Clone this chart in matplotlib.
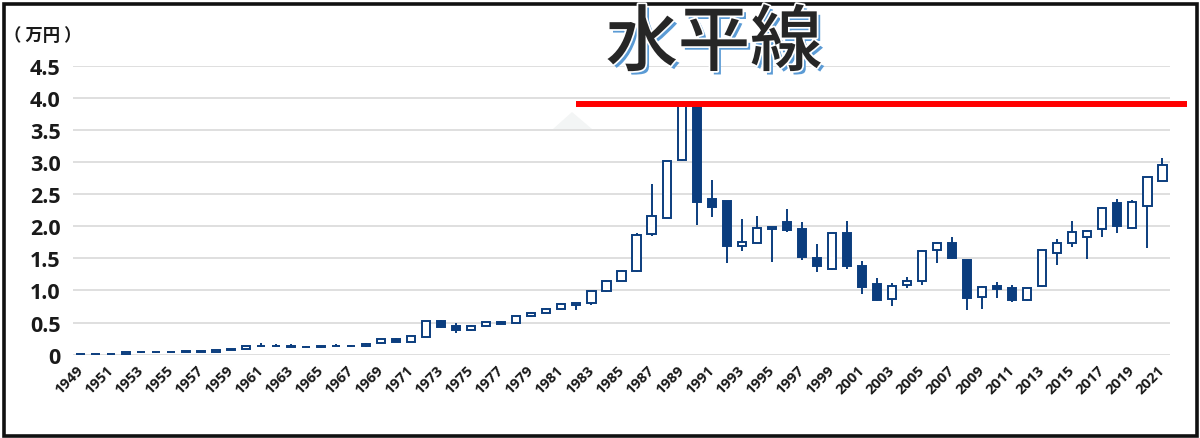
import matplotlib.pyplot as plt
import matplotlib.patheffects as pe
from matplotlib.patches import Polygon, Rectangle
import numpy as np

plt.rcParams['font.family'] = ['Open Sans', 'Noto Sans CJK JP', 'DejaVu Sans']

NAVY = '#0b3d7e'

years = list(range(1949, 2022))
# yearly open / high / low / close, in 万円
opens = [0.0176, 0.0108, 0.0102, 0.0166, 0.036, 0.038, 0.036, 0.043, 0.055, 0.047,
         0.067, 0.087, 0.136, 0.143, 0.142, 0.123, 0.122, 0.142, 0.143, 0.128,
         0.18, 0.245, 0.20, 0.28, 0.525, 0.44, 0.385, 0.445, 0.505, 0.49,
         0.605, 0.655, 0.715, 0.78, 0.81, 0.99, 1.155, 1.311, 1.882, 2.122,
         3.024, 3.871, 2.42, 2.39, 1.70, 1.737, 1.962, 2.07, 1.95, 1.51,
         1.342, 1.90, 1.38, 1.10, 0.871, 1.079, 1.152, 1.636, 1.74, 1.48,
         0.899, 1.075, 1.045, 0.855, 1.063, 1.59, 1.733, 1.84, 1.96, 2.36,
         1.966, 2.32, 2.71]
highs = [0.0176, 0.0115, 0.0166, 0.0363, 0.047, 0.038, 0.043, 0.055, 0.060, 0.067,
         0.087, 0.136, 0.183, 0.159, 0.163, 0.137, 0.142, 0.159, 0.151, 0.185,
         0.25, 0.255, 0.29, 0.53, 0.536, 0.49, 0.456, 0.51, 0.525, 0.61,
         0.66, 0.72, 0.80, 0.80, 0.99, 1.158, 1.313, 1.894, 2.665, 3.016,
         3.896, 3.871, 2.715, 2.39, 2.115, 2.155, 1.99, 2.267, 2.068, 1.726,
         1.90, 2.083, 1.453, 1.20, 1.116, 1.216, 1.634, 1.756, 1.826, 1.48,
         1.064, 1.134, 1.086, 1.045, 1.636, 1.794, 2.087, 1.949, 2.294, 2.427,
         2.407, 2.757, 3.07]
lows = [0.0099, 0.0085, 0.0098, 0.0163, 0.030, 0.032, 0.035, 0.042, 0.047, 0.047,
        0.067, 0.087, 0.126, 0.122, 0.120, 0.120, 0.102, 0.140, 0.125, 0.127,
        0.17, 0.195, 0.198, 0.278, 0.415, 0.336, 0.375, 0.44, 0.475, 0.487,
        0.59, 0.645, 0.70, 0.69, 0.78, 0.97, 1.155, 1.288, 1.854, 2.122,
        3.018, 2.022, 2.146, 1.431, 1.608, 1.737, 1.449, 1.916, 1.478, 1.288,
        1.323, 1.342, 0.950, 0.830, 0.761, 1.037, 1.083, 1.422, 1.484, 0.70,
        0.705, 0.880, 0.816, 0.83, 1.049, 1.391, 1.680, 1.495, 1.834, 1.895,
        1.956, 1.655, 2.70]
closes = [0.0110, 0.0102, 0.0166, 0.0363, 0.038, 0.036, 0.043, 0.055, 0.047, 0.067,
          0.087, 0.136, 0.143, 0.142, 0.123, 0.122, 0.142, 0.143, 0.128, 0.171,
          0.25, 0.205, 0.285, 0.525, 0.43, 0.385, 0.445, 0.51, 0.485, 0.605,
          0.657, 0.715, 0.785, 0.80, 0.99, 1.155, 1.311, 1.87, 2.156, 3.016,
          3.892, 2.385, 2.298, 1.692, 1.755, 1.98, 1.987, 1.936, 1.526, 1.384,
          1.90, 1.379, 1.054, 0.858, 1.068, 1.149, 1.611, 1.735, 1.51, 0.886,
          1.055, 1.023, 0.846, 1.045, 1.629, 1.745, 1.91, 1.92, 2.29, 2.001,
          2.38, 2.76, 2.95]

line_level = 3.905      # 水平線 (1989 high)
line_from = 1982
line_to = 2022.6

yticks = [0, 0.5, 1.0, 1.5, 2.0, 2.5, 3.0, 3.5, 4.0, 4.5]
ytick_labels = ['0', '0.5', '1.0', '1.5', '2.0', '2.5', '3.0', '3.5', '4.0', '4.5']

fig = plt.figure(figsize=(12, 4.39), dpi=100)
ax = fig.add_axes([73 / 1200, 1 - 355.7 / 439, 1097 / 1200, 289 / 439])

x = np.arange(len(years))
o = np.array(opens)
c = np.array(closes)
up = c >= o
bottoms = np.minimum(o, c)
heights = np.abs(c - o)
faces = ['white' if u else NAVY for u in up]

ax.vlines(x, lows, highs, color=NAVY, lw=1.4, zorder=2)
ax.bar(x, heights, bottom=bottoms, width=0.54, color=faces, edgecolor=NAVY,
       linewidth=1.4, zorder=3)

x0 = years.index(line_from)
x1 = line_to - years[0]
ax.plot([x0, x1], [line_level, line_level], color='#ff0000', lw=4.3,
        solid_capstyle='butt', clip_on=False, zorder=5)

ax.set_xlim(-0.5, len(years) - 0.5)
ax.set_ylim(0, 4.5)
ax.set_yticks(yticks)
ax.set_yticklabels(ytick_labels, fontsize=15.5, fontweight='bold', color='#1a1a1a')
ax.set_xticks(x[::2])
ax.set_xticklabels([str(y) for y in years[::2]], rotation=45, ha='right', va='center',
                   rotation_mode='anchor', fontsize=10.5, fontweight='bold', color='#1a1a1a')
ax.tick_params(axis='both', length=0)
ax.tick_params(axis='y', pad=9)
ax.tick_params(axis='x', pad=9)
ax.yaxis.grid(True, color='#d9d9d9', lw=1.2)
ax.set_axisbelow(True)
for s in ax.spines.values():
    s.set_visible(False)

fig.text(43 / 1200, 1 - 36 / 439, '（ 万円 ）', ha='center', va='center', fontsize=12.5,
         fontweight='bold', color='#1a1a1a', family=['Noto Sans CJK JP', 'DejaVu Sans'])

fig.text(714 / 1200, 1 - 45 / 439, '水平線', ha='center', va='center', fontsize=52,
         fontweight='medium', color='#262626', family=['Noto Sans CJK JP', 'DejaVu Sans'],
         path_effects=[pe.SimplePatchShadow(offset=(2.5, -2.5), shadow_rgbFace='#5b9bd5', alpha=1.0),
                       pe.Stroke(linewidth=2.5, foreground='white'),
                       pe.Normal()])

# faint triangle left of the line
tri = np.array([(553, 130), (572, 113), (592, 130)], dtype=float)
tri[:, 0] /= 1200
tri[:, 1] = 1 - tri[:, 1] / 439
fig.patches.append(Polygon(tri, closed=True, transform=fig.transFigure,
                           facecolor='#f3f5f5', edgecolor='none', zorder=0))

fig.patches.append(Rectangle((3.5 / 1200, 2.5 / 439), 1193 / 1200, 432 / 439,
                             transform=fig.transFigure, fill=False,
                             edgecolor='#111111', lw=2.6))

fig.savefig('out.png', dpi=100)
